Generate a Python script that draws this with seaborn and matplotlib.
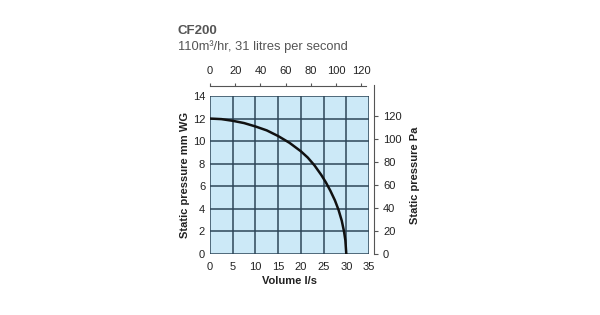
import matplotlib
matplotlib.use("Agg")
import matplotlib.pyplot as plt
import seaborn as sns
import pandas as pd

# Data
volume_ls = [0, 2.5, 5, 7.5, 10, 12.5, 15, 17.5, 20, 21.5, 23, 24.5, 25.5, 26.5, 27.5, 28.3, 29, 29.5, 29.8, 30]
pressure_mmwg = [12, 11.95, 11.8, 11.6, 11.3, 10.95, 10.45, 9.85, 9.1, 8.55, 7.85, 7.0, 6.35, 5.6, 4.75, 3.9, 2.95, 2.0, 1.2, 0]
x_ticks = [0, 5, 10, 15, 20, 25, 30, 35]
y_ticks = [0, 2, 4, 6, 8, 10, 12, 14]
top_ticks = [0, 20, 40, 60, 80, 100, 120]
right_ticks = [0, 20, 40, 60, 80, 100, 120]
title = "CF200"
subtitle = "110m\u00b3/hr, 31 litres per second"

sns.set_style("white")
plt.rcParams['font.family'] = ['Liberation Sans', 'DejaVu Sans']

df = pd.DataFrame({"volume": volume_ls, "pressure": pressure_mmwg})

fig = plt.figure(figsize=(6, 3.15), dpi=100)
ax = fig.add_axes([0.35, 0.1937, 0.265, 0.5016])
ax.set_facecolor("#cce9f7")

sns.lineplot(data=df, x="volume", y="pressure", ax=ax, color="#111111", linewidth=1.8, zorder=5)

ax.set_xlim(0, 35)
ax.set_ylim(0, 14)
ax.set_xticks(x_ticks)
ax.set_yticks(y_ticks)
ax.grid(True, color="#2d4658", linewidth=1.1, zorder=1)
ax.set_axisbelow(True)
for s in ax.spines.values():
    s.set_visible(False)
ax.tick_params(axis="both", length=0, labelsize=8, labelcolor="#222222")
ax.tick_params(axis="x", pad=6)
ax.tick_params(axis="y", pad=3.5)
ax.set_xlabel("Volume l/s", fontsize=8, fontweight="bold", color="#222222", labelpad=3)
ax.set_ylabel("Static pressure mm WG", fontsize=8, fontweight="bold", color="#222222", labelpad=2)

# top axis m3/hr
top = ax.secondary_xaxis("top", functions=(lambda x: x * 3.6, lambda x: x / 3.6))
top.set_xticks(top_ticks)
top.spines["top"].set_position(("outward", 7.2))
top.spines["top"].set_bounds(0, 124)
top.spines["top"].set_color("#555555")
top.spines["top"].set_linewidth(0.8)
top.tick_params(axis="x", direction="out", length=2.5, width=0.8, color="#555555",
                labelsize=8, labelcolor="#222222", pad=5)

# right axis Pa
right = ax.secondary_yaxis("right", functions=(lambda y: y * 9.81, lambda y: y / 9.81))
right.set_yticks(right_ticks)
right.spines["right"].set_position(("outward", 3.6))
right.spines["right"].set_bounds(0, 147)
right.spines["right"].set_color("#555555")
right.spines["right"].set_linewidth(0.8)
right.tick_params(axis="y", direction="out", length=3, width=0.8, color="#555555",
                  labelsize=8, labelcolor="#222222", pad=3.5)
right.set_ylabel("Static pressure Pa", fontsize=8, fontweight="bold", color="#222222",
                 rotation=90, labelpad=6)

fig.text(178 / 600, 1 - 31.5 / 315, title, fontsize=9.5, fontweight="bold", color="#555555",
         va="center", ha="left")
fig.text(178 / 600, 1 - 46.5 / 315, subtitle, fontsize=9.3, color="#555555",
         va="center", ha="left")

fig.savefig("out.png", dpi=100)
